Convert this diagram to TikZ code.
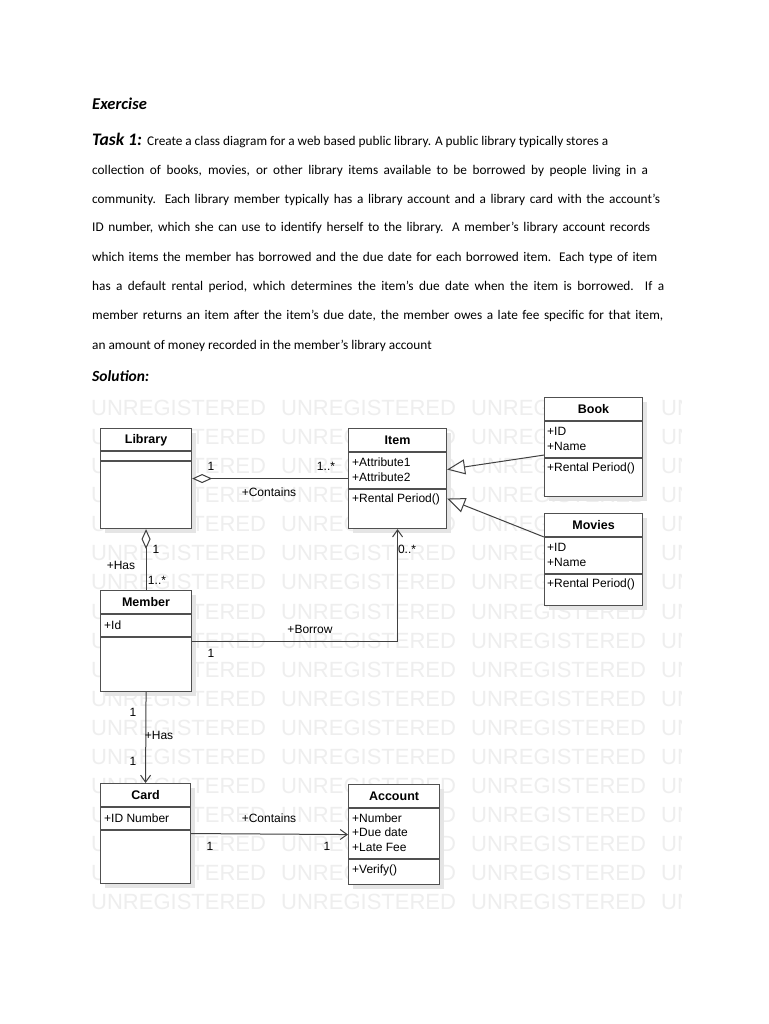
\documentclass[tikz,border=0pt]{standalone}
\usepackage{fontspec}
\setmainfont{Carlito}
\newfontfamily\umlfont{Liberation Sans}
\usetikzlibrary{arrows.meta,calc,shadows}

\definecolor{wmgray}{HTML}{EEEEEE}
\definecolor{boxline}{HTML}{505050}
\definecolor{linkline}{HTML}{404040}

\newcommand{\bodyline}[2]{\makebox[#1pt][s]{#2}}

\begin{document}
\begin{tikzpicture}[x=1pt,y=-1pt,
    body/.style={anchor=base west,inner sep=0pt,font=\fontsize{13.3}{16}\selectfont},
    heading/.style={anchor=base west,inner sep=0pt,font=\bfseries\itshape},
    wmark/.style={anchor=west,inner sep=0pt,text=wmgray,
                  font=\umlfont\fontsize{22}{22}\selectfont},
    classbox/.style={draw=boxline,fill=white,line width=1.1pt,anchor=north west,
                     inner sep=0pt,
                     drop shadow={shadow xshift=4pt,shadow yshift=-4pt,fill=black!10,opacity=1}},
    classname/.style={inner sep=0pt,font=\umlfont\fontsize{12.5}{14}\selectfont\bfseries},
    field/.style={anchor=west,inner sep=0pt,font=\umlfont\fontsize{12}{14}\selectfont},
    sep/.style={draw=boxline,line width=1.1pt},
    lbl/.style={inner sep=0pt,font=\umlfont\fontsize{12}{14}\selectfont},
    link/.style={draw=linkline,line width=1pt},
    aggr/.style={link,{Diamond[open,length=20pt,width=9pt]}-},
    general/.style={link,-{Triangle[open,length=18pt,width=15pt]}},
    assoc/.style={link,-{Straight Barb[length=7pt,width=10pt]}}]

\useasboundingbox (0,0) rectangle (768,1024);
\fill[white] (0,0) rectangle (768,1024);

% exercise text
\node[heading,font=\fontsize{16.5}{18}\selectfont\bfseries\itshape] (exercise) at (92,110) {Exercise};
\node[heading,font=\fontsize{17.6}{20}\selectfont\bfseries\itshape] (task) at (92,146) {Task 1:};
\node[body] (t1) at (147,146) {\bodyline{461}{Create a class diagram for a web based public library. A public library typically stores a}};
\node[body] (t2) at (92,175) {\bodyline{556}{collection of books, movies, or other library items available to be borrowed by people living in a}};
\node[body] (t3) at (92,204) {\bodyline{568}{community. Each library member typically has a library account and a library card with the account’s}};
\node[body] (t4) at (92,232) {\bodyline{558}{ID number, which she can use to identify herself to the library. A member’s library account records}};
\node[body] (t5) at (92,261) {\bodyline{565}{which items the member has borrowed and the due date for each borrowed item. Each type of item}};
\node[body] (t6) at (92,290) {\bodyline{572}{has a default rental period, which determines the item’s due date when the item is borrowed. If a}};
\node[body] (t7) at (92,319) {\bodyline{571}{member returns an item after the item’s due date, the member owes a late fee specific for that item,}};
\node[body] (t8) at (92,349) {an amount of money recorded in the member’s library account};
\node[heading,font=\fontsize{15.5}{18}\selectfont\bfseries\itshape] (solution) at (92,381) {Solution:};

% watermark
\begin{scope}
  \clip (90,394) rectangle (681,914);
  \foreach \r in {0,...,17}
    \foreach \c in {0,...,3}
      \node[wmark] (wm-\r-\c) at (91+190*\c,408+29.06*\r) {UNREGISTERED};
\end{scope}

% classes
\node[classbox,minimum width=91pt,minimum height=100pt] (lib) at (100,428) {};
\node[classname] (lib-t) at ($(lib.north)+(0,12)$) {Library};
\draw[sep] ($(lib.north west)+(0,23)$) -- ($(lib.north east)+(0,23)$);
\draw[sep] ($(lib.north west)+(0,33)$) -- ($(lib.north east)+(0,33)$);

\node[classbox,minimum width=98pt,minimum height=100pt] (item) at (348,428) {};
\node[classname] (item-t) at ($(item.north)+(0,12)$) {Item};
\draw[sep] ($(item.north west)+(0,24)$) -- ($(item.north east)+(0,24)$);
\draw[sep] ($(item.north west)+(0,61)$) -- ($(item.north east)+(0,61)$);
\node[field] (item-a1) at ($(item.north west)+(4,34)$) {+Attribute1};
\node[field] (item-a2) at ($(item.north west)+(4,49)$) {+Attribute2};
\node[field] (item-o1) at ($(item.north west)+(4,71)$) {+Rental Period()};

\node[classbox,minimum width=98pt,minimum height=99pt] (book) at (544,397) {};
\node[classname] (book-t) at ($(book.north)+(0,12)$) {Book};
\draw[sep] ($(book.north west)+(0,24)$) -- ($(book.north east)+(0,24)$);
\draw[sep] ($(book.north west)+(0,61)$) -- ($(book.north east)+(0,61)$);
\node[field] (book-a1) at ($(book.north west)+(3,34)$) {+ID};
\node[field] (book-a2) at ($(book.north west)+(3,49)$) {+Name};
\node[field] (book-o1) at ($(book.north west)+(3,71)$) {+Rental Period()};

\node[classbox,minimum width=98pt,minimum height=92pt] (movies) at (544,513) {};
\node[classname] (movies-t) at ($(movies.north)+(0,12)$) {Movies};
\draw[sep] ($(movies.north west)+(0,24)$) -- ($(movies.north east)+(0,24)$);
\draw[sep] ($(movies.north west)+(0,61)$) -- ($(movies.north east)+(0,61)$);
\node[field] (movies-a1) at ($(movies.north west)+(3,34)$) {+ID};
\node[field] (movies-a2) at ($(movies.north west)+(3,49)$) {+Name};
\node[field] (movies-o1) at ($(movies.north west)+(3,71)$) {+Rental Period()};

\node[classbox,minimum width=91pt,minimum height=101pt] (mem) at (100,590) {};
\node[classname] (mem-t) at ($(mem.north)+(0,12)$) {Member};
\draw[sep] ($(mem.north west)+(0,24)$) -- ($(mem.north east)+(0,24)$);
\draw[sep] ($(mem.north west)+(0,47)$) -- ($(mem.north east)+(0,47)$);
\node[field] (mem-a1) at ($(mem.north west)+(4,35)$) {+Id};

\node[classbox,minimum width=90pt,minimum height=100pt] (card) at (100,783) {};
\node[classname] (card-t) at ($(card.north)+(0,12)$) {Card};
\draw[sep] ($(card.north west)+(0,24)$) -- ($(card.north east)+(0,24)$);
\draw[sep] ($(card.north west)+(0,47)$) -- ($(card.north east)+(0,47)$);
\node[field] (card-a1) at ($(card.north west)+(4,35)$) {+ID Number};

\node[classbox,minimum width=91pt,minimum height=100pt] (acct) at (348,784) {};
\node[classname] (acct-t) at ($(acct.north)+(0,12)$) {Account};
\draw[sep] ($(acct.north west)+(0,24)$) -- ($(acct.north east)+(0,24)$);
\draw[sep] ($(acct.north west)+(0,75)$) -- ($(acct.north east)+(0,75)$);
\node[field] (acct-a1) at ($(acct.north west)+(4,34)$) {+Number};
\node[field] (acct-a2) at ($(acct.north west)+(4,48)$) {+Due date};
\node[field] (acct-a3) at ($(acct.north west)+(4,63)$) {+Late Fee};
\node[field] (acct-o1) at ($(acct.north west)+(4,86)$) {+Verify()};

% connectors
\draw[aggr] (lib.east) -- (item.west);
\draw[aggr] (lib.south) -- (mem.north);
\draw[assoc] (mem.east) -| (item.south);
\draw[general] ($(book.west)+(0,8)$) -- ($(item.east)+(0,-9)$);
\draw[general] ($(movies.north west)+(0,24)$) -- ($(item.east)+(0,20)$);
\draw[assoc] (mem.south) -- (card.north);
\draw[assoc] (card.east) -- (acct.west);

% connector labels
\node[lbl] (contains-a) at (211,466) {1};
\node[lbl] (contains-b) at (326,466) {1..*};
\node[lbl] (contains) at (269,492) {+Contains};
\node[lbl] (has-a) at (156,549) {1};
\node[lbl] (has) at (121,565) {+Has};
\node[lbl] (has-b) at (157,580) {1..*};
\node[lbl] (borrow) at (310,629) {+Borrow};
\node[lbl] (borrow-a) at (211,653) {1};
\node[lbl] (borrow-b) at (407,549) {0..*};
\node[lbl] (owns-a) at (133,712) {1};
\node[lbl] (owns) at (159,735) {+Has};
\node[lbl] (owns-b) at (133,761) {1};
\node[lbl] (holds) at (269,818) {+Contains};
\node[lbl] (holds-a) at (210,846) {1};
\node[lbl] (holds-b) at (327,846) {1};
\end{tikzpicture}
\end{document}
